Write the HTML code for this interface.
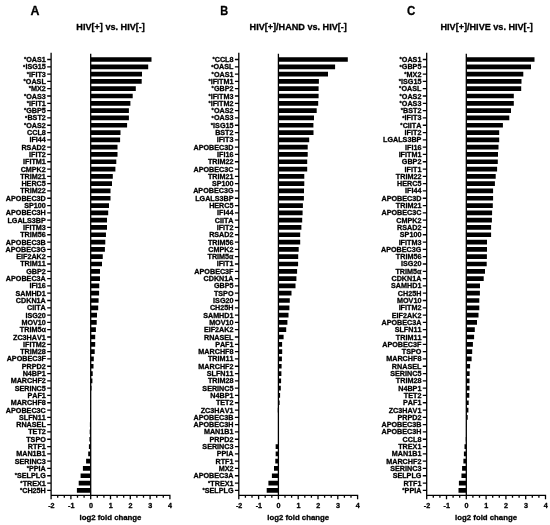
<!DOCTYPE html>
<html lang="en"><head><meta charset="utf-8"><title>Figure</title>
<style>html,body{margin:0;padding:0;background:#fff}body{width:550px;height:525px;overflow:hidden}svg{display:block}</style>
</head><body>
<svg width="550" height="525" viewBox="0 0 550 525">
<rect width="550" height="525" fill="#fff"/>
<g font-family="'Liberation Sans', Arial, Helvetica, sans-serif" font-weight="bold" fill="#000" stroke="#000" stroke-width="0.3" stroke-linejoin="round" style="font-kerning:none">
<text x="30.6" y="15.1" font-size="12.4">A</text>
<text x="110.6" y="29.8" font-size="9.1" text-anchor="middle">HIV[+] vs. HIV[-]</text>
<path d="M90.70 57.15h60.80v4.70h-60.80zM90.70 64.45h57.50v4.70h-57.50zM90.70 71.76h51.30v4.70h-51.30zM90.70 79.06h51.00v4.70h-51.00zM90.70 86.36h45.10v4.70h-45.10zM90.70 93.67h42.00v4.70h-42.00zM90.70 100.97h39.70v4.70h-39.70zM90.70 108.27h38.20v4.70h-38.20zM90.70 115.57h38.20v4.70h-38.20zM90.70 122.88h36.40v4.70h-36.40zM90.70 130.18h29.80v4.70h-29.80zM90.70 137.48h29.40v4.70h-29.40zM90.70 144.79h26.80v4.70h-26.80zM90.70 152.09h26.80v4.70h-26.80zM90.70 159.39h25.60v4.70h-25.60zM90.70 166.70h24.70v4.70h-24.70zM90.70 174.00h22.10v4.70h-22.10zM90.70 181.30h21.30v4.70h-21.30zM90.70 188.60h19.80v4.70h-19.80zM90.70 195.91h19.80v4.70h-19.80zM90.70 203.21h18.30v4.70h-18.30zM90.70 210.51h17.50v4.70h-17.50zM90.70 217.82h16.30v4.70h-16.30zM90.70 225.12h16.30v4.70h-16.30zM90.70 232.42h15.25v4.70h-15.25zM90.70 239.72h14.60v4.70h-14.60zM90.70 247.03h14.20v4.70h-14.20zM90.70 254.33h12.05v4.70h-12.05zM90.70 261.63h11.30v4.70h-11.30zM90.70 268.94h9.30v4.70h-9.30zM90.70 276.24h9.30v4.70h-9.30zM90.70 283.54h8.55v4.70h-8.55zM90.70 290.85h8.40v4.70h-8.40zM90.70 298.15h7.90v4.70h-7.90zM90.70 305.45h7.50v4.70h-7.50zM90.70 312.75h6.30v4.70h-6.30zM90.70 320.06h6.00v4.70h-6.00zM90.70 327.36h5.20v4.70h-5.20zM90.70 334.66h4.50v4.70h-4.50zM90.70 341.97h4.50v4.70h-4.50zM90.70 349.27h4.00v4.70h-4.00zM90.70 356.57h3.10v4.70h-3.10zM90.70 363.88h2.80v4.70h-2.80zM90.70 371.18h2.00v4.70h-2.00zM90.70 378.48h1.70v4.70h-1.70zM90.70 385.78h0.80v4.70h-0.80zM90.70 393.09h0.30v4.70h-0.30zM90.50 400.39h0.20v4.70h-0.20zM90.30 407.69h0.40v4.70h-0.40zM90.20 415.00h0.50v4.70h-0.50zM89.90 422.30h0.80v4.70h-0.80zM89.70 429.60h1.00v4.70h-1.00zM89.40 436.91h1.30v4.70h-1.30zM88.90 444.21h1.80v4.70h-1.80zM88.20 451.51h2.50v4.70h-2.50zM86.10 458.81h4.60v4.70h-4.60zM82.90 466.12h7.80v4.70h-7.80zM80.60 473.42h10.10v4.70h-10.10zM78.70 480.72h12.00v4.70h-12.00zM76.90 488.03h13.80v4.70h-13.80z" stroke="none"/>
<path d="M51.10 52.80V495.95M90.70 53.70V495.30M50.45 495.30H170.55M47.20 59.50H51.10M47.20 66.80H51.10M47.20 74.11H51.10M47.20 81.41H51.10M47.20 88.71H51.10M47.20 96.02H51.10M47.20 103.32H51.10M47.20 110.62H51.10M47.20 117.92H51.10M47.20 125.23H51.10M47.20 132.53H51.10M47.20 139.83H51.10M47.20 147.14H51.10M47.20 154.44H51.10M47.20 161.74H51.10M47.20 169.05H51.10M47.20 176.35H51.10M47.20 183.65H51.10M47.20 190.95H51.10M47.20 198.26H51.10M47.20 205.56H51.10M47.20 212.86H51.10M47.20 220.17H51.10M47.20 227.47H51.10M47.20 234.77H51.10M47.20 242.07H51.10M47.20 249.38H51.10M47.20 256.68H51.10M47.20 263.98H51.10M47.20 271.29H51.10M47.20 278.59H51.10M47.20 285.89H51.10M47.20 293.20H51.10M47.20 300.50H51.10M47.20 307.80H51.10M47.20 315.11H51.10M47.20 322.41H51.10M47.20 329.71H51.10M47.20 337.01H51.10M47.20 344.32H51.10M47.20 351.62H51.10M47.20 358.92H51.10M47.20 366.23H51.10M47.20 373.53H51.10M47.20 380.83H51.10M47.20 388.13H51.10M47.20 395.44H51.10M47.20 402.74H51.10M47.20 410.04H51.10M47.20 417.35H51.10M47.20 424.65H51.10M47.20 431.95H51.10M47.20 439.26H51.10M47.20 446.56H51.10M47.20 453.86H51.10M47.20 461.17H51.10M47.20 468.47H51.10M47.20 475.77H51.10M47.20 483.07H51.10M47.20 490.38H51.10M51.10 495.30V499.30M57.70 495.30V497.80M64.30 495.30V497.80M70.90 495.30V499.30M77.50 495.30V497.80M84.10 495.30V497.80M90.70 495.30V499.30M97.30 495.30V497.80M103.90 495.30V497.80M110.50 495.30V499.30M117.10 495.30V497.80M123.70 495.30V497.80M130.30 495.30V499.30M136.90 495.30V497.80M143.50 495.30V497.80M150.10 495.30V499.30M156.70 495.30V497.80M163.30 495.30V497.80M169.90 495.30V499.30" fill="none" stroke="#000" stroke-width="1.3"/>
<g font-size="7.2" text-anchor="end">
<text x="45.80" y="62.00"><tspan font-size="5.7" dy="-0.8">*</tspan><tspan dy="0.8" dx="0.1">OAS1</tspan></text>
<text x="45.80" y="69.30"><tspan font-size="5.7" dy="-0.8">*</tspan><tspan dy="0.8" dx="0.1">ISG15</tspan></text>
<text x="45.80" y="76.61"><tspan font-size="5.7" dy="-0.8">*</tspan><tspan dy="0.8" dx="0.1">IFIT3</tspan></text>
<text x="45.80" y="83.91"><tspan font-size="5.7" dy="-0.8">*</tspan><tspan dy="0.8" dx="0.1">OASL</tspan></text>
<text x="45.80" y="91.21"><tspan font-size="5.7" dy="-0.8">*</tspan><tspan dy="0.8" dx="0.1">MX2</tspan></text>
<text x="45.80" y="98.52"><tspan font-size="5.7" dy="-0.8">*</tspan><tspan dy="0.8" dx="0.1">OAS3</tspan></text>
<text x="45.80" y="105.82"><tspan font-size="5.7" dy="-0.8">*</tspan><tspan dy="0.8" dx="0.1">IFIT1</tspan></text>
<text x="45.80" y="113.12"><tspan font-size="5.7" dy="-0.8">*</tspan><tspan dy="0.8" dx="0.1">GBP5</tspan></text>
<text x="45.80" y="120.42"><tspan font-size="5.7" dy="-0.8">*</tspan><tspan dy="0.8" dx="0.1">BST2</tspan></text>
<text x="45.80" y="127.73"><tspan font-size="5.7" dy="-0.8">*</tspan><tspan dy="0.8" dx="0.1">OAS2</tspan></text>
<text x="45.80" y="135.03">CCL8</text>
<text x="45.80" y="142.33">IFI44</text>
<text x="45.80" y="149.64">RSAD2</text>
<text x="45.80" y="156.94">IFIT2</text>
<text x="45.80" y="164.24">IFITM1</text>
<text x="45.80" y="171.55">CMPK2</text>
<text x="45.80" y="178.85">TRIM21</text>
<text x="45.80" y="186.15">HERC5</text>
<text x="45.80" y="193.45">TRIM22</text>
<text x="45.80" y="200.76">APOBEC3D</text>
<text x="45.80" y="208.06">SP100</text>
<text x="45.80" y="215.36">APOBEC3H</text>
<text x="45.80" y="222.67">LGALS3BP</text>
<text x="45.80" y="229.97">IFITM3</text>
<text x="45.80" y="237.27">TRIM56</text>
<text x="45.80" y="244.57">APOBEC3B</text>
<text x="45.80" y="251.88">APOBEC3G</text>
<text x="45.80" y="259.18">EIF2AK2</text>
<text x="45.80" y="266.48">TRIM11</text>
<text x="45.80" y="273.79">GBP2</text>
<text x="45.80" y="281.09">APOBEC3A</text>
<text x="45.80" y="288.39">IFI16</text>
<text x="45.80" y="295.70">SAMHD1</text>
<text x="45.80" y="303.00">CDKN1A</text>
<text x="45.80" y="310.30">CIITA</text>
<text x="45.80" y="317.61">ISG20</text>
<text x="45.80" y="324.91">MOV10</text>
<text x="45.80" y="332.21">TRIM5α</text>
<text x="45.80" y="339.51">ZC3HAV1</text>
<text x="45.80" y="346.82">IFITM2</text>
<text x="45.80" y="354.12">TRIM28</text>
<text x="45.80" y="361.42">APOBEC3F</text>
<text x="45.80" y="368.73">PRPD2</text>
<text x="45.80" y="376.03">N4BP1</text>
<text x="45.80" y="383.33">MARCHF2</text>
<text x="45.80" y="390.63">SERINC5</text>
<text x="45.80" y="397.94">PAF1</text>
<text x="45.80" y="405.24">MARCHF8</text>
<text x="45.80" y="412.54">APOBEC3C</text>
<text x="45.80" y="419.85">SLFN11</text>
<text x="45.80" y="427.15">RNASEL</text>
<text x="45.80" y="434.45">TET2</text>
<text x="45.80" y="441.76">TSPO</text>
<text x="45.80" y="449.06">RTF1</text>
<text x="45.80" y="456.36">MAN1B1</text>
<text x="45.80" y="463.67">SERINC3</text>
<text x="45.80" y="470.97"><tspan font-size="5.7" dy="-0.8">*</tspan><tspan dy="0.8" dx="0.1">PPIA</tspan></text>
<text x="45.80" y="478.27"><tspan font-size="5.7" dy="-0.8">*</tspan><tspan dy="0.8" dx="0.1">SELPLG</tspan></text>
<text x="45.80" y="485.57"><tspan font-size="5.7" dy="-0.8">*</tspan><tspan dy="0.8" dx="0.1">TREX1</tspan></text>
<text x="45.80" y="492.88"><tspan font-size="5.7" dy="-0.8">*</tspan><tspan dy="0.8" dx="0.1">CH25H</tspan></text>
</g>
<g font-size="7.2" text-anchor="middle">
<text x="51.40" y="508.3">-2</text>
<text x="71.20" y="508.3">-1</text>
<text x="90.90" y="508.3">0</text>
<text x="110.70" y="508.3">1</text>
<text x="130.50" y="508.3">2</text>
<text x="150.30" y="508.3">3</text>
<text x="170.10" y="508.3">4</text>
</g>
<text x="110.50" y="520.3" font-size="7.8" text-anchor="middle">log2 fold change</text>
<text x="220.2" y="15.1" font-size="12.4" textLength="7.9" lengthAdjust="spacingAndGlyphs">B</text>
<text x="298.2" y="29.8" font-size="9.1" text-anchor="middle">HIV[+]/HAND vs. HIV[-]</text>
<path d="M278.40 57.15h69.40v4.70h-69.40zM278.40 64.45h56.70v4.70h-56.70zM278.40 71.76h49.60v4.70h-49.60zM278.40 79.06h40.50v4.70h-40.50zM278.40 86.36h40.20v4.70h-40.20zM278.40 93.67h40.20v4.70h-40.20zM278.40 100.97h39.80v4.70h-39.80zM278.40 108.27h38.30v4.70h-38.30zM278.40 115.57h35.60v4.70h-35.60zM278.40 122.88h35.00v4.70h-35.00zM278.40 130.18h35.10v4.70h-35.10zM278.40 137.48h30.80v4.70h-30.80zM278.40 144.79h29.30v4.70h-29.30zM278.40 152.09h29.30v4.70h-29.30zM278.40 159.39h28.80v4.70h-28.80zM278.40 166.70h28.80v4.70h-28.80zM278.40 174.00h25.90v4.70h-25.90zM278.40 181.30h25.90v4.70h-25.90zM278.40 188.60h25.60v4.70h-25.60zM278.40 195.91h25.50v4.70h-25.50zM278.40 203.21h24.50v4.70h-24.50zM278.40 210.51h24.20v4.70h-24.20zM278.40 217.82h23.80v4.70h-23.80zM278.40 225.12h23.00v4.70h-23.00zM278.40 232.42h21.80v4.70h-21.80zM278.40 239.72h21.80v4.70h-21.80zM278.40 247.03h20.30v4.70h-20.30zM278.40 254.33h19.80v4.70h-19.80zM278.40 261.63h19.70v4.70h-19.70zM278.40 268.94h18.70v4.70h-18.70zM278.40 276.24h18.00v4.70h-18.00zM278.40 283.54h17.10v4.70h-17.10zM278.40 290.85h13.10v4.70h-13.10zM278.40 298.15h11.40v4.70h-11.40zM278.40 305.45h11.00v4.70h-11.00zM278.40 312.75h10.10v4.70h-10.10zM278.40 320.06h9.00v4.70h-9.00zM278.40 327.36h7.80v4.70h-7.80zM278.40 334.66h5.20v4.70h-5.20zM278.40 341.97h3.70v4.70h-3.70zM278.40 349.27h3.80v4.70h-3.80zM278.40 356.57h3.50v4.70h-3.50zM278.40 363.88h3.20v4.70h-3.20zM278.40 371.18h3.00v4.70h-3.00zM278.40 378.48h2.70v4.70h-2.70zM278.40 385.78h2.40v4.70h-2.40zM278.40 393.09h1.70v4.70h-1.70zM278.40 400.39h1.20v4.70h-1.20zM277.80 407.69h0.60v4.70h-0.60zM278.10 436.91h0.30v4.70h-0.30zM275.65 444.21h2.75v4.70h-2.75zM275.65 451.51h2.75v4.70h-2.75zM275.30 458.81h3.10v4.70h-3.10zM274.00 466.12h4.40v4.70h-4.40zM271.90 473.42h6.50v4.70h-6.50zM268.40 480.72h10.00v4.70h-10.00zM266.70 488.03h11.70v4.70h-11.70z" stroke="none"/>
<path d="M238.80 52.80V495.95M278.40 53.70V495.30M238.15 495.30H358.25M234.90 59.50H238.80M234.90 66.80H238.80M234.90 74.11H238.80M234.90 81.41H238.80M234.90 88.71H238.80M234.90 96.02H238.80M234.90 103.32H238.80M234.90 110.62H238.80M234.90 117.92H238.80M234.90 125.23H238.80M234.90 132.53H238.80M234.90 139.83H238.80M234.90 147.14H238.80M234.90 154.44H238.80M234.90 161.74H238.80M234.90 169.05H238.80M234.90 176.35H238.80M234.90 183.65H238.80M234.90 190.95H238.80M234.90 198.26H238.80M234.90 205.56H238.80M234.90 212.86H238.80M234.90 220.17H238.80M234.90 227.47H238.80M234.90 234.77H238.80M234.90 242.07H238.80M234.90 249.38H238.80M234.90 256.68H238.80M234.90 263.98H238.80M234.90 271.29H238.80M234.90 278.59H238.80M234.90 285.89H238.80M234.90 293.20H238.80M234.90 300.50H238.80M234.90 307.80H238.80M234.90 315.11H238.80M234.90 322.41H238.80M234.90 329.71H238.80M234.90 337.01H238.80M234.90 344.32H238.80M234.90 351.62H238.80M234.90 358.92H238.80M234.90 366.23H238.80M234.90 373.53H238.80M234.90 380.83H238.80M234.90 388.13H238.80M234.90 395.44H238.80M234.90 402.74H238.80M234.90 410.04H238.80M234.90 417.35H238.80M234.90 424.65H238.80M234.90 431.95H238.80M234.90 439.26H238.80M234.90 446.56H238.80M234.90 453.86H238.80M234.90 461.17H238.80M234.90 468.47H238.80M234.90 475.77H238.80M234.90 483.07H238.80M234.90 490.38H238.80M238.80 495.30V499.30M245.40 495.30V497.80M252.00 495.30V497.80M258.60 495.30V499.30M265.20 495.30V497.80M271.80 495.30V497.80M278.40 495.30V499.30M285.00 495.30V497.80M291.60 495.30V497.80M298.20 495.30V499.30M304.80 495.30V497.80M311.40 495.30V497.80M318.00 495.30V499.30M324.60 495.30V497.80M331.20 495.30V497.80M337.80 495.30V499.30M344.40 495.30V497.80M351.00 495.30V497.80M357.60 495.30V499.30" fill="none" stroke="#000" stroke-width="1.3"/>
<g font-size="7.2" text-anchor="end">
<text x="233.50" y="62.00"><tspan font-size="5.7" dy="-0.8">*</tspan><tspan dy="0.8" dx="0.1">CCL8</tspan></text>
<text x="233.50" y="69.30"><tspan font-size="5.7" dy="-0.8">*</tspan><tspan dy="0.8" dx="0.1">OASL</tspan></text>
<text x="233.50" y="76.61"><tspan font-size="5.7" dy="-0.8">*</tspan><tspan dy="0.8" dx="0.1">OAS1</tspan></text>
<text x="233.50" y="83.91"><tspan font-size="5.7" dy="-0.8">*</tspan><tspan dy="0.8" dx="0.1">IFITM1</tspan></text>
<text x="233.50" y="91.21"><tspan font-size="5.7" dy="-0.8">*</tspan><tspan dy="0.8" dx="0.1">GBP2</tspan></text>
<text x="233.50" y="98.52"><tspan font-size="5.7" dy="-0.8">*</tspan><tspan dy="0.8" dx="0.1">IFITM3</tspan></text>
<text x="233.50" y="105.82"><tspan font-size="5.7" dy="-0.8">*</tspan><tspan dy="0.8" dx="0.1">IFITM2</tspan></text>
<text x="233.50" y="113.12"><tspan font-size="5.7" dy="-0.8">*</tspan><tspan dy="0.8" dx="0.1">OAS2</tspan></text>
<text x="233.50" y="120.42"><tspan font-size="5.7" dy="-0.8">*</tspan><tspan dy="0.8" dx="0.1">OAS3</tspan></text>
<text x="233.50" y="127.73"><tspan font-size="5.7" dy="-0.8">*</tspan><tspan dy="0.8" dx="0.1">ISG15</tspan></text>
<text x="233.50" y="135.03">BST2</text>
<text x="233.50" y="142.33">IFIT3</text>
<text x="233.50" y="149.64">APOBEC3D</text>
<text x="233.50" y="156.94">IFI16</text>
<text x="233.50" y="164.24">TRIM22</text>
<text x="233.50" y="171.55">APOBEC3C</text>
<text x="233.50" y="178.85">TRIM21</text>
<text x="233.50" y="186.15">SP100</text>
<text x="233.50" y="193.45">APOBEC3G</text>
<text x="233.50" y="200.76">LGALS3BP</text>
<text x="233.50" y="208.06">HERC5</text>
<text x="233.50" y="215.36">IFI44</text>
<text x="233.50" y="222.67">CIITA</text>
<text x="233.50" y="229.97">IFIT2</text>
<text x="233.50" y="237.27">RSAD2</text>
<text x="233.50" y="244.57">TRIM56</text>
<text x="233.50" y="251.88">CMPK2</text>
<text x="233.50" y="259.18">TRIM5α</text>
<text x="233.50" y="266.48">IFIT1</text>
<text x="233.50" y="273.79">APOBEC3F</text>
<text x="233.50" y="281.09">CDKN1A</text>
<text x="233.50" y="288.39">GBP5</text>
<text x="233.50" y="295.70">TSPO</text>
<text x="233.50" y="303.00">ISG20</text>
<text x="233.50" y="310.30">CH25H</text>
<text x="233.50" y="317.61">SAMHD1</text>
<text x="233.50" y="324.91">MOV10</text>
<text x="233.50" y="332.21">EIF2AK2</text>
<text x="233.50" y="339.51">RNASEL</text>
<text x="233.50" y="346.82">PAF1</text>
<text x="233.50" y="354.12">MARCHF8</text>
<text x="233.50" y="361.42">TRIM11</text>
<text x="233.50" y="368.73">MARCHF2</text>
<text x="233.50" y="376.03">SLFN11</text>
<text x="233.50" y="383.33">TRIM28</text>
<text x="233.50" y="390.63">SERINC5</text>
<text x="233.50" y="397.94">N4BP1</text>
<text x="233.50" y="405.24">TET2</text>
<text x="233.50" y="412.54">ZC3HAV1</text>
<text x="233.50" y="419.85">APOBEC3B</text>
<text x="233.50" y="427.15">APOBEC3H</text>
<text x="233.50" y="434.45">MAN1B1</text>
<text x="233.50" y="441.76">PRPD2</text>
<text x="233.50" y="449.06">SERINC3</text>
<text x="233.50" y="456.36">PPIA</text>
<text x="233.50" y="463.67">RTF1</text>
<text x="233.50" y="470.97">MX2</text>
<text x="233.50" y="478.27">APOBEC3A</text>
<text x="233.50" y="485.57"><tspan font-size="5.7" dy="-0.8">*</tspan><tspan dy="0.8" dx="0.1">TREX1</tspan></text>
<text x="233.50" y="492.88"><tspan font-size="5.7" dy="-0.8">*</tspan><tspan dy="0.8" dx="0.1">SELPLG</tspan></text>
</g>
<g font-size="7.2" text-anchor="middle">
<text x="239.10" y="508.3">-2</text>
<text x="258.90" y="508.3">-1</text>
<text x="278.60" y="508.3">0</text>
<text x="298.40" y="508.3">1</text>
<text x="318.20" y="508.3">2</text>
<text x="338.00" y="508.3">3</text>
<text x="357.80" y="508.3">4</text>
</g>
<text x="298.20" y="520.3" font-size="7.8" text-anchor="middle">log2 fold change</text>
<text x="407.0" y="15.1" font-size="12.4" textLength="8.3" lengthAdjust="spacingAndGlyphs">C</text>
<text x="486.6" y="29.8" font-size="9.1" text-anchor="middle">HIV[+]/HIVE vs. HIV[-]</text>
<path d="M466.30 57.15h68.20v4.70h-68.20zM466.30 64.45h64.70v4.70h-64.70zM466.30 71.76h57.00v4.70h-57.00zM466.30 79.06h55.20v4.70h-55.20zM466.30 86.36h54.90v4.70h-54.90zM466.30 93.67h47.50v4.70h-47.50zM466.30 100.97h47.50v4.70h-47.50zM466.30 108.27h44.70v4.70h-44.70zM466.30 115.57h43.00v4.70h-43.00zM466.30 122.88h36.60v4.70h-36.60zM466.30 130.18h32.90v4.70h-32.90zM466.30 137.48h32.90v4.70h-32.90zM466.30 144.79h32.20v4.70h-32.20zM466.30 152.09h31.70v4.70h-31.70zM466.30 159.39h31.50v4.70h-31.50zM466.30 166.70h30.80v4.70h-30.80zM466.30 174.00h29.40v4.70h-29.40zM466.30 181.30h28.60v4.70h-28.60zM466.30 188.60h26.80v4.70h-26.80zM466.30 195.91h26.80v4.70h-26.80zM466.30 203.21h26.50v4.70h-26.50zM466.30 210.51h25.80v4.70h-25.80zM466.30 217.82h25.60v4.70h-25.60zM466.30 225.12h24.80v4.70h-24.80zM466.30 232.42h24.80v4.70h-24.80zM466.30 239.72h20.70v4.70h-20.70zM466.30 247.03h20.70v4.70h-20.70zM466.30 254.33h20.60v4.70h-20.60zM466.30 261.63h20.40v4.70h-20.40zM466.30 268.94h18.70v4.70h-18.70zM466.30 276.24h17.40v4.70h-17.40zM466.30 283.54h13.70v4.70h-13.70zM466.30 290.85h13.60v4.70h-13.60zM466.30 298.15h13.00v4.70h-13.00zM466.30 305.45h13.00v4.70h-13.00zM466.30 312.75h12.20v4.70h-12.20zM466.30 320.06h10.70v4.70h-10.70zM466.30 327.36h8.50v4.70h-8.50zM466.30 334.66h7.80v4.70h-7.80zM466.30 341.97h6.60v4.70h-6.60zM466.30 349.27h5.90v4.70h-5.90zM466.30 356.57h5.30v4.70h-5.30zM466.30 363.88h3.80v4.70h-3.80zM466.30 371.18h3.35v4.70h-3.35zM466.30 378.48h3.20v4.70h-3.20zM466.30 385.78h3.20v4.70h-3.20zM466.30 393.09h3.00v4.70h-3.00zM466.30 400.39h2.40v4.70h-2.40zM466.30 407.69h2.10v4.70h-2.10zM466.30 415.00h1.40v4.70h-1.40zM466.30 422.30h0.30v4.70h-0.30zM465.80 436.91h0.50v4.70h-0.50zM464.50 444.21h1.80v4.70h-1.80zM463.90 451.51h2.40v4.70h-2.40zM463.40 458.81h2.90v4.70h-2.90zM462.10 466.12h4.20v4.70h-4.20zM461.45 473.42h4.85v4.70h-4.85zM458.90 480.72h7.40v4.70h-7.40zM458.50 488.03h7.80v4.70h-7.80z" stroke="none"/>
<path d="M426.70 52.80V495.95M466.30 53.70V495.30M426.05 495.30H546.15M422.80 59.50H426.70M422.80 66.80H426.70M422.80 74.11H426.70M422.80 81.41H426.70M422.80 88.71H426.70M422.80 96.02H426.70M422.80 103.32H426.70M422.80 110.62H426.70M422.80 117.92H426.70M422.80 125.23H426.70M422.80 132.53H426.70M422.80 139.83H426.70M422.80 147.14H426.70M422.80 154.44H426.70M422.80 161.74H426.70M422.80 169.05H426.70M422.80 176.35H426.70M422.80 183.65H426.70M422.80 190.95H426.70M422.80 198.26H426.70M422.80 205.56H426.70M422.80 212.86H426.70M422.80 220.17H426.70M422.80 227.47H426.70M422.80 234.77H426.70M422.80 242.07H426.70M422.80 249.38H426.70M422.80 256.68H426.70M422.80 263.98H426.70M422.80 271.29H426.70M422.80 278.59H426.70M422.80 285.89H426.70M422.80 293.20H426.70M422.80 300.50H426.70M422.80 307.80H426.70M422.80 315.11H426.70M422.80 322.41H426.70M422.80 329.71H426.70M422.80 337.01H426.70M422.80 344.32H426.70M422.80 351.62H426.70M422.80 358.92H426.70M422.80 366.23H426.70M422.80 373.53H426.70M422.80 380.83H426.70M422.80 388.13H426.70M422.80 395.44H426.70M422.80 402.74H426.70M422.80 410.04H426.70M422.80 417.35H426.70M422.80 424.65H426.70M422.80 431.95H426.70M422.80 439.26H426.70M422.80 446.56H426.70M422.80 453.86H426.70M422.80 461.17H426.70M422.80 468.47H426.70M422.80 475.77H426.70M422.80 483.07H426.70M422.80 490.38H426.70M426.70 495.30V499.30M433.30 495.30V497.80M439.90 495.30V497.80M446.50 495.30V499.30M453.10 495.30V497.80M459.70 495.30V497.80M466.30 495.30V499.30M472.90 495.30V497.80M479.50 495.30V497.80M486.10 495.30V499.30M492.70 495.30V497.80M499.30 495.30V497.80M505.90 495.30V499.30M512.50 495.30V497.80M519.10 495.30V497.80M525.70 495.30V499.30M532.30 495.30V497.80M538.90 495.30V497.80M545.50 495.30V499.30" fill="none" stroke="#000" stroke-width="1.3"/>
<g font-size="7.2" text-anchor="end">
<text x="421.40" y="62.00"><tspan font-size="5.7" dy="-0.8">*</tspan><tspan dy="0.8" dx="0.1">OAS1</tspan></text>
<text x="421.40" y="69.30"><tspan font-size="5.7" dy="-0.8">*</tspan><tspan dy="0.8" dx="0.1">GBP5</tspan></text>
<text x="421.40" y="76.61"><tspan font-size="5.7" dy="-0.8">*</tspan><tspan dy="0.8" dx="0.1">MX2</tspan></text>
<text x="421.40" y="83.91"><tspan font-size="5.7" dy="-0.8">*</tspan><tspan dy="0.8" dx="0.1">ISG15</tspan></text>
<text x="421.40" y="91.21"><tspan font-size="5.7" dy="-0.8">*</tspan><tspan dy="0.8" dx="0.1">OASL</tspan></text>
<text x="421.40" y="98.52"><tspan font-size="5.7" dy="-0.8">*</tspan><tspan dy="0.8" dx="0.1">OAS2</tspan></text>
<text x="421.40" y="105.82"><tspan font-size="5.7" dy="-0.8">*</tspan><tspan dy="0.8" dx="0.1">OAS3</tspan></text>
<text x="421.40" y="113.12"><tspan font-size="5.7" dy="-0.8">*</tspan><tspan dy="0.8" dx="0.1">BST2</tspan></text>
<text x="421.40" y="120.42"><tspan font-size="5.7" dy="-0.8">*</tspan><tspan dy="0.8" dx="0.1">IFIT3</tspan></text>
<text x="421.40" y="127.73"><tspan font-size="5.7" dy="-0.8">*</tspan><tspan dy="0.8" dx="0.1">CIITA</tspan></text>
<text x="421.40" y="135.03">IFIT2</text>
<text x="421.40" y="142.33">LGALS3BP</text>
<text x="421.40" y="149.64">IFI16</text>
<text x="421.40" y="156.94">IFITM1</text>
<text x="421.40" y="164.24">GBP2</text>
<text x="421.40" y="171.55">IFIT1</text>
<text x="421.40" y="178.85">TRIM22</text>
<text x="421.40" y="186.15">HERC5</text>
<text x="421.40" y="193.45">IFI44</text>
<text x="421.40" y="200.76">APOBEC3D</text>
<text x="421.40" y="208.06">TRIM21</text>
<text x="421.40" y="215.36">APOBEC3C</text>
<text x="421.40" y="222.67">CMPK2</text>
<text x="421.40" y="229.97">RSAD2</text>
<text x="421.40" y="237.27">SP100</text>
<text x="421.40" y="244.57">IFITM3</text>
<text x="421.40" y="251.88">APOBEC3G</text>
<text x="421.40" y="259.18">TRIM56</text>
<text x="421.40" y="266.48">ISG20</text>
<text x="421.40" y="273.79">TRIM5α</text>
<text x="421.40" y="281.09">CDKN1A</text>
<text x="421.40" y="288.39">SAMHD1</text>
<text x="421.40" y="295.70">CH25H</text>
<text x="421.40" y="303.00">MOV10</text>
<text x="421.40" y="310.30">IFITM2</text>
<text x="421.40" y="317.61">EIF2AK2</text>
<text x="421.40" y="324.91">APOBEC3A</text>
<text x="421.40" y="332.21">SLFN11</text>
<text x="421.40" y="339.51">TRIM11</text>
<text x="421.40" y="346.82">APOBEC3F</text>
<text x="421.40" y="354.12">TSPO</text>
<text x="421.40" y="361.42">MARCHF8</text>
<text x="421.40" y="368.73">RNASEL</text>
<text x="421.40" y="376.03">SERINC5</text>
<text x="421.40" y="383.33">TRIM28</text>
<text x="421.40" y="390.63">N4BP1</text>
<text x="421.40" y="397.94">TET2</text>
<text x="421.40" y="405.24">PAF1</text>
<text x="421.40" y="412.54">ZC3HAV1</text>
<text x="421.40" y="419.85">PRPD2</text>
<text x="421.40" y="427.15">APOBEC3B</text>
<text x="421.40" y="434.45">APOBEC3H</text>
<text x="421.40" y="441.76">CCL8</text>
<text x="421.40" y="449.06">TREX1</text>
<text x="421.40" y="456.36">MAN1B1</text>
<text x="421.40" y="463.67">MARCHF2</text>
<text x="421.40" y="470.97">SERINC3</text>
<text x="421.40" y="478.27">SELPLG</text>
<text x="421.40" y="485.57">RTF1</text>
<text x="421.40" y="492.88"><tspan font-size="5.7" dy="-0.8">*</tspan><tspan dy="0.8" dx="0.1">PPIA</tspan></text>
</g>
<g font-size="7.2" text-anchor="middle">
<text x="427.00" y="508.3">-2</text>
<text x="446.80" y="508.3">-1</text>
<text x="466.50" y="508.3">0</text>
<text x="486.30" y="508.3">1</text>
<text x="506.10" y="508.3">2</text>
<text x="525.90" y="508.3">3</text>
<text x="545.70" y="508.3">4</text>
</g>
<text x="486.10" y="520.3" font-size="7.8" text-anchor="middle">log2 fold change</text>
</g></svg>
</body></html>
